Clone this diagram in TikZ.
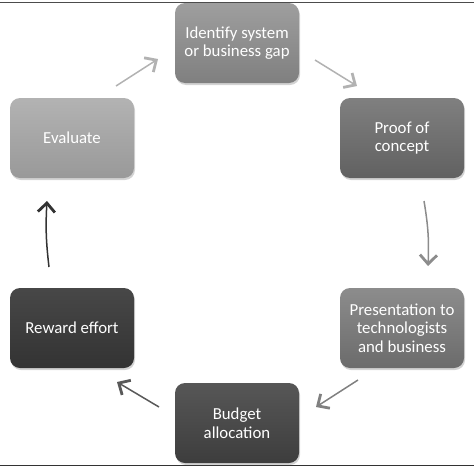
\documentclass[tikz,border=0pt]{standalone}
\usepackage{fontspec}
\setmainfont{Carlito}
\usetikzlibrary{arrows.meta,shadows}

\begin{document}
\begin{tikzpicture}[x=1pt,y=-1pt,>={Straight Barb[length=9pt,width=17pt,line width=2.8pt]},thick,
	stage/.style={rounded corners=10pt,minimum width=124pt,minimum height=80pt,
		align=center,text=white,font=\fontsize{16.8}{18.5}\selectfont,
		drop shadow={opacity=0.35,shadow xshift=1pt,shadow yshift=-2pt}},
	flow/.style={->,line width=1.5pt}]

\useasboundingbox (0,0) rectangle (474,474);

\draw[line width=1pt,color=black!70] (0,2)--(474,2);
\draw[line width=1pt,color=black!80] (0,465)--(474,465);

\node[stage,top color=black!38,bottom color=black!50] (idn) at (237,43) {Identify system\\or business gap};
\node[stage,top color=black!50,bottom color=black!62] (prf) at (402,138) {Proof of\\concept};
\node[stage,top color=black!45,bottom color=black!58] (pre) at (402,328) {Presentation to\\technologists\\and business};
\node[stage,top color=black!66,bottom color=black!76] (bud) at (237,423) {Budget\\allocation};
\node[stage,top color=black!72,bottom color=black!80] (rew) at (72,328) {Reward effort};
\node[stage,top color=black!30,bottom color=black!40] (eva) at (72,138) {Evaluate};

\coordinate (idn out) at (315,60);
\coordinate (prf in)  at (357,86);
\coordinate (prf out) at (424,201);
\coordinate (pre in)  at (428,266);
\coordinate (pre out) at (358,380);
\coordinate (bud in)  at (316,407);
\coordinate (bud out) at (159,407);
\coordinate (rew in)  at (117,382);
\coordinate (rew out) at (49,267);
\coordinate (eva in)  at (47,201);
\coordinate (eva out) at (116,86);
\coordinate (idn in)  at (158,59);

\draw[flow,color=black!30] (idn out)--(prf in);
\draw[flow,color=black!45] (prf out) to[bend left=6] (pre in);
\draw[flow,color=black!50] (pre out)--(bud in);
\draw[flow,color=black!65] (bud out)--(rew in);
\draw[flow,color=black!80] (rew out) to[bend left=5] (eva in);
\draw[flow,color=black!30] (eva out)--(idn in);

\end{tikzpicture}
\end{document}
